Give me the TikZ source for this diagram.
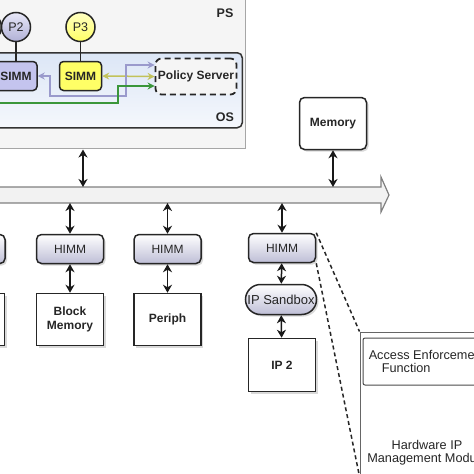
\documentclass[tikz,border=0pt]{standalone}
\usepackage{fontspec}
\setmainfont{Liberation Sans}
\usetikzlibrary{arrows.meta,shadows}
\definecolor{lavline}{HTML}{9A9ACC}
\definecolor{ylwline}{HTML}{C2C25A}
\definecolor{grnline}{HTML}{3A963A}
\definecolor{simmlav}{HTML}{C4C4EE}
\definecolor{simmylw}{HTML}{FFFF66}
\definecolor{himmlav}{HTML}{BEBED6}
\definecolor{oscol}{HTML}{DCE6F6}
\begin{document}
\begin{tikzpicture}[x=1pt,y=-1pt,
    every node/.style={inner sep=0pt,text=black!85,font=\fontsize{12}{14}\selectfont},
    blk/.style={draw=black!85,line width=1.5pt,fill=white,font=\fontsize{12}{14}\selectfont\bfseries,align=center,minimum width=67pt,minimum height=52pt,drop shadow={shadow xshift=2pt,shadow yshift=-2pt,opacity=.3}},
    himm/.style={blk,rounded corners=5pt,top color=white,bottom color=himmlav,font=\fontsize{12}{14}\selectfont,minimum height=29pt},
    simm/.style={draw=black!85,line width=1.5pt,rounded corners=4pt,font=\fontsize{12}{14}\selectfont\bfseries,minimum width=42pt,minimum height=29pt},
    proc/.style={circle,draw=black!85,line width=1.5pt,minimum size=29pt,font=\fontsize{12.5}{14}\selectfont},
    link/.style={{Stealth[length=8pt,width=9pt,inset=2.5pt]}-{Stealth[length=8pt,width=9pt,inset=2.5pt]},line width=1.5pt,black!90},
    req/.style={line width=1.5pt,{Stealth[length=7pt,width=7pt]}-{Stealth[length=7pt,width=7pt]}},
    zoomline/.style={line width=1.5pt,dash pattern=on 4pt off 3pt,black!85},
    tag/.style={font=\fontsize{12.5}{14}\selectfont\bfseries}]
\useasboundingbox (0,0) rectangle (474,474);
\clip (0,0) rectangle (474,474);
% software side
\node[fill=black!4,draw=black!35,line width=1pt,minimum width=260pt,minimum height=160pt,anchor=south east] (ps) at (246,149) {};
\node[tag] (pstag) at (225,13) {PS};
\node[draw=black!80,line width=1.5pt,rounded corners=5pt,top color=oscol,bottom color=oscol!30,minimum width=260pt,minimum height=75pt,anchor=north east] (os) at (243,52) {};
\node[tag] (ostag) at (225,117) {OS};
\node[simm,fill=simmlav] (simmp2) at (16,76) {SIMM};
\node[simm,fill=simmylw] (simmp3) at (80.5,76) {SIMM};
\node[draw=black!85,line width=1.8pt,dash pattern=on 6pt off 4pt,rounded corners=6pt,fill=black!4,minimum width=81pt,minimum height=36pt,font=\fontsize{12}{14}\selectfont\bfseries] (policy) at (196,76.5) {Policy Server};
\node[proc,top color=black!35,bottom color=black!60] (p1) at (-13,27) {};
\node[proc,top color=simmlav!40,bottom color=simmlav!90!black] (p2) at (16,27) {P2};
\node[proc,top color=simmylw!40,bottom color=simmylw] (p3) at (80.5,27) {P3};
\draw[line width=1.5pt,black!85] (p2) -- (simmp2);
\draw[line width=1.5pt,black!85] (p3) -- (simmp3);
\draw[req,ylwline] (simmp3.east) -- (policy.west);
\draw[req,lavline] ([yshift=11.5pt]policy.west) -| (126,96) -| ([xshift=12pt]simmp2.east) -- (simmp2.east);
\coordinate (gin) at (-5,103);
\draw[line width=1.5pt,grnline,-{Stealth[length=7pt,width=7pt]}] (gin) -| (118,86) -- ([yshift=-9.5pt]policy.west);
% bus
\draw[fill=black!5,draw=black!50,line width=1.2pt] (-5,187) -- (381,187) -- (381,177) -- (389,195) -- (381,212) -- (381,203) -- (-5,203) -- cycle;
\coordinate (bustop) at (0,187);
\coordinate (busbot) at (0,203);
\coordinate (osdown) at (83,149.5);
\node[blk,rounded corners=5pt] (mem) at (333,123.5) {Memory};
\draw[link] (osdown) -- (osdown |- bustop);
\draw[link] (mem.south) -- (mem.south |- bustop);
% hardware side
\node[himm] (himm0) at (-28.5,249) {};
\node[himm] (himm1) at (70,249) {HIMM};
\node[himm] (himm2) at (167.5,249) {HIMM};
\node[himm] (himm3) at (282,248) {HIMM};
\node[blk] (box0) at (-29,319.5) {};
\node[blk] (blkmem) at (70,319.5) {Block\\Memory};
\node[blk] (periph) at (167.5,319.5) {Periph};
\node[himm,rounded corners=15pt,minimum width=71pt,minimum height=30pt,font=\fontsize{13}{14}\selectfont] (sandbox) at (281,299.5) {IP Sandbox};
\node[blk,minimum height=53pt] (ip2) at (282,365) {IP 2};
\foreach \h/\b in {himm1/blkmem,himm2/periph}{
  \draw[link] (\h.north |- busbot) -- (\h.north);
  \draw[link] (\h) -- (\b);
}
\draw[link] (himm3.north |- busbot) -- (himm3.north);
\draw[link] (himm3) -- (sandbox);
\draw[link] (sandbox) -- (ip2);
% zoom on the HIMM
\node[draw=black!60,line width=1pt,fill=white,minimum width=134pt,minimum height=144pt] (hipmm) at (427,404) {};
\node[draw=black!70,line width=1pt,rounded corners=2pt,minimum width=128pt,minimum height=47pt,align=left,font=\fontsize{12.7}{13}\selectfont] (aef) at (427,361.5) {Access Enforcement\\\hspace*{13pt}Function};
\node[align=center,font=\fontsize{12.7}{13}\selectfont] (hwlabel) at (427,453) {Hardware IP\\Management Module};
\draw[zoomline] (himm3.north east) -- (hipmm.north west);
\draw[zoomline] (himm3.south east) -- (hipmm.south west);
\end{tikzpicture}
\end{document}
